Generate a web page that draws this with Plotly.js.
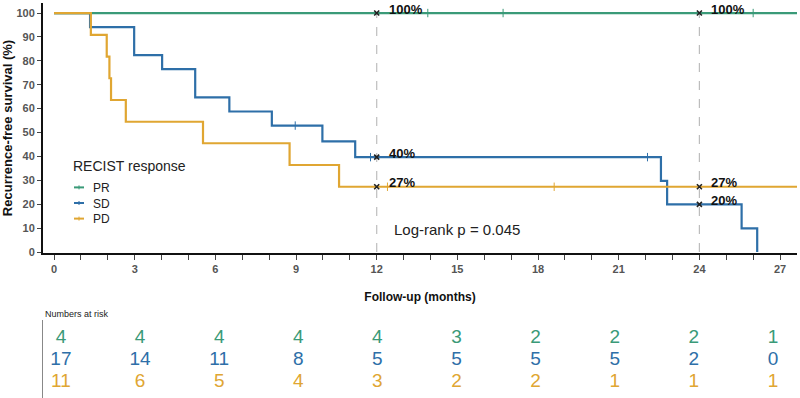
<!DOCTYPE html>
<html>
<head>
<meta charset="utf-8">
<script src="https://cdn.plot.ly/plotly-3.0.1.min.js"></script>
<style>html,body{margin:0;padding:0;background:#fff;}#chart{width:800px;height:398px;}</style>
</head>
<body>
<div id="chart"></div>
<script>
// ---- data ----
const groups = ["PR", "SD", "PD"];
const colors = ["#3a9a78", "#2e6fa8", "#e0a632"];

const prX = [0, 27.63];
const prY = [100, 100];
const sdX = [0, 1.34, 2.98, 4.02, 5.25, 6.52, 8.1, 9.98, 11.2, 22.57, 22.8, 25.57, 26.15];
const sdY = [100, 94.1, 82.4, 76.5, 64.7, 58.8, 52.9, 46.3, 39.7, 29.8, 19.9, 9.9, 0];
const pdX = [0, 1.37, 1.96, 2.06, 2.12, 2.67, 5.54, 8.76, 10.6, 27.63];
const pdY = [100, 90.9, 81.8, 72.7, 63.6, 54.5, 45.5, 36.4, 27.3, 27.3];

const prCensX = [13.9, 16.7, 26.0];
const prCensY = [100, 100, 100];
const sdCensX = [8.97, 11.77, 22.07];
const sdCensY = [52.9, 39.7, 39.7];
const pdCensX = [12.4, 18.6];
const pdCensY = [27.3, 27.3];

const markX = [12, 12, 12, 24, 24, 24];
const markY = [100, 39.7, 27.3, 100, 27.3, 19.9];
const markLabels = ["100%", "40%", "27%", "100%", "27%", "20%"];

const riskTimes = [0, 3, 6, 9, 12, 15, 18, 21, 24, 27];
const riskPR = [4, 4, 4, 4, 4, 3, 2, 2, 2, 1];
const riskSD = [17, 14, 11, 8, 5, 5, 5, 5, 2, 0];
const riskPD = [11, 6, 5, 4, 3, 2, 2, 1, 1, 1];

const xTicks = [0, 3, 6, 9, 12, 15, 18, 21, 24, 27];
const yTicks = [0, 10, 20, 30, 40, 50, 60, 70, 80, 90, 100];

const FONT = "Arial, 'Liberation Sans', sans-serif";

// pixel -> paper helpers (plot area: x 43..797, y 3..398)
const px = v => (v - 43) / 754;
const py = v => (398 - v) / 395;

const curves = [[prX, prY], [sdX, sdY], [pdX, pdY]];
const cens = [[prCensX, prCensY], [sdCensX, sdCensY], [pdCensX, pdCensY]];
const risks = [riskPR, riskSD, riskPD];

const traces = [];
curves.forEach((c, i) => {
  traces.push({x: c[0], y: c[1], type: "scatter", mode: "lines", line: {shape: "hv", color: colors[i], width: 2.2},
    showlegend: false, hoverinfo: "skip", xaxis: "x", yaxis: "y"});
});
cens.forEach((c, i) => {
  traces.push({x: c[0], y: c[1], type: "scatter", mode: "markers",
    marker: {symbol: "line-ns", size: 6, line: {color: colors[i], width: 1}},
    showlegend: false, hoverinfo: "skip", xaxis: "x", yaxis: "y"});
});
// x marks
traces.push({x: markX, y: markY, type: "scatter", mode: "markers",
  marker: {symbol: "x-thin", size: 5, line: {color: "#222", width: 1.6}},
  showlegend: false, hoverinfo: "skip", xaxis: "x", yaxis: "y"});
// risk table
risks.forEach((r, i) => {
  traces.push({x: riskTimes, y: riskTimes.map(() => 3 - i), type: "scatter", mode: "text",
    text: r.map(String), textfont: {family: FONT, size: 19, color: colors[i]},
    textposition: "middle center", showlegend: false, hoverinfo: "skip", xaxis: "x2", yaxis: "y2", cliponaxis: false});
  traces.push({x: [-1.07], y: [3 - i], type: "scatter", mode: "markers",
    marker: {symbol: "line-ew", size: 7, line: {color: colors[i], width: 4}},
    showlegend: false, hoverinfo: "skip", xaxis: "x2", yaxis: "y2", cliponaxis: false});
});

const annotations = markLabels.map((t, i) => ({
  x: markX[i], y: markY[i], xref: "x", yref: "y", text: "<b>" + t + "</b>", showarrow: false,
  xanchor: "left", yanchor: "middle", xshift: 10, yshift: 4,
  font: {family: FONT, size: 13, color: "#111"}
}));
annotations.push({x: 12.57, y: 9.6, xref: "x", yref: "y", text: "Log-rank p = 0.045", showarrow: false,
  xanchor: "left", yanchor: "middle", font: {family: FONT, size: 15, color: "#222"}});
annotations.push({x: 0, y: py(314), xref: "paper", yref: "paper",
  text: "Numbers at risk", showarrow: false, xanchor: "left", yanchor: "middle",
  font: {family: FONT, size: 9, color: "#222"}});
// legend (drawn manually for compact spacing)
annotations.push({x: px(71), y: py(166), xref: "paper", yref: "paper", text: "RECIST response",
  showarrow: false, xanchor: "left", yanchor: "middle", font: {family: FONT, size: 14, color: "#222"}});
const legendRows = [187.4, 203, 218.6];
annotations.push({x: px(91), y: py(203), xref: "paper", yref: "paper", text: groups.join("<br>"),
  showarrow: false, xanchor: "left", yanchor: "middle", align: "left",
  font: {family: FONT, size: 12, color: "#222"}});

const shapes = [12, 24].map(v => ({type: "line", xref: "x", yref: "y", x0: v, x1: v, y0: 0, y1: 100,
  line: {color: "#bdbdbd", width: 1.2, dash: "dash"}, layer: "below"}));
groups.forEach((g, i) => {
  shapes.push({type: "line", xref: "paper", yref: "paper", x0: px(74), x1: px(84),
    y0: py(legendRows[i]), y1: py(legendRows[i]), line: {color: colors[i], width: 2}});
  shapes.push({type: "line", xref: "paper", yref: "paper", x0: px(79), x1: px(79),
    y0: py(legendRows[i] - 2), y1: py(legendRows[i] + 2), line: {color: colors[i], width: 1}});
});

const mainBottom = (398 - 253) / 395;

const layout = {
  width: 800, height: 398,
  margin: {l: 43, r: 3, t: 3, b: 0},
  paper_bgcolor: "#fff", plot_bgcolor: "#fff",
  font: {family: FONT},
  showlegend: false,
  xaxis: {domain: [0, 1], range: [-0.41, 27.63], anchor: "y", showgrid: false, zeroline: false,
    showline: true, linecolor: "#111", linewidth: 2,
    tickmode: "array", tickvals: xTicks, ticks: "outside", ticklen: 5, tickwidth: 1, tickcolor: "#444",
    minor: {dtick: 1, tick0: 0, ticks: "outside", ticklen: 5, tickwidth: 1, tickcolor: "#444"},
    tickfont: {family: FONT, size: 11, color: "#555", weight: "bold"},
    title: {text: "<b>Follow-up (months)</b>", font: {family: FONT, size: 12, color: "#111"}, standoff: 18}},
  yaxis: {domain: [mainBottom, 1], range: [-0.42, 104.2], anchor: "x", showgrid: false, zeroline: false,
    showline: true, linecolor: "#111", linewidth: 2,
    tickmode: "array", tickvals: yTicks, ticks: "outside", ticklen: 4, tickwidth: 1, tickcolor: "#444",
    tickfont: {family: FONT, size: 11, color: "#555", weight: "bold"},
    title: {text: "<b>Recurrence-free survival (%)</b>", font: {family: FONT, size: 13, color: "#111"}}},
  xaxis2: {domain: [0, 1], range: [-0.68, 27.91], anchor: "y2", visible: false, fixedrange: true},
  yaxis2: {domain: [0, 0.1965], range: [0.3, 3.8], anchor: "x2", showgrid: false, zeroline: false,
    showticklabels: false, ticks: "", showline: true, linecolor: "#888", linewidth: 1.5},
  annotations: annotations,
  shapes: shapes
};

Plotly.newPlot("chart", traces, layout, {staticPlot: true, displayModeBar: false});
</script>
</body>
</html>
